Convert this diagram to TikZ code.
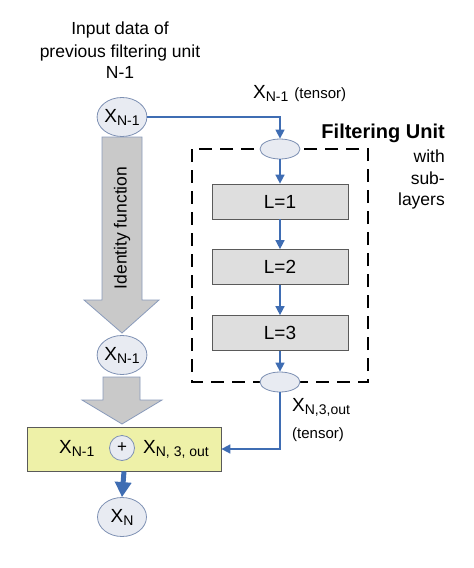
\documentclass[tikz,border=0pt]{standalone}
\usepackage{fontspec}
\setmainfont{Liberation Sans}
\usetikzlibrary{arrows.meta,shapes.geometric}
\definecolor{lblue}{HTML}{3F6DB3}
\definecolor{ellfill}{HTML}{E8EBF2}
\definecolor{elldraw}{HTML}{7D90B3}
\definecolor{boxfill}{HTML}{DEDEDE}
\definecolor{boxdraw}{HTML}{5A5A5A}
\definecolor{arrfill}{HTML}{C9C9C9}
\definecolor{arrdraw}{HTML}{8A9BBB}
\definecolor{yfill}{HTML}{EEF1A8}
\newcommand\Xs[1]{{\fontsize{19}{20}\selectfont X}\raisebox{-3pt}{\fontsize{14}{15}\selectfont #1}}
\newcommand\fs[1]{\fontsize{#1}{#1}\selectfont}
\tikzset{
  ell/.style={ellipse, draw=elldraw, fill=ellfill, line width=0.8pt, inner sep=0pt, minimum width=49pt, minimum height=39pt},
  sell/.style={ellipse, draw=elldraw, fill=ellfill, line width=0.8pt, inner sep=0pt, minimum width=40pt, minimum height=20pt},
  lbox/.style={rectangle, draw=boxdraw, fill=boxfill, line width=0.7pt, minimum width=136pt, minimum height=35pt, inner sep=0pt, font=\fs{19}},
  conn/.style={draw=lblue, line width=1.5pt, -{Triangle[length=9pt,width=9pt]}},
  thick conn/.style={draw=lblue, line width=5pt, -{Triangle[length=15pt,width=16pt]}},
  bigarrow/.style={draw=arrdraw, fill=arrfill, line width=0.8pt},
  txt/.style={inner sep=0pt, font=\fs{17.5}},
}
\begin{document}
\begin{tikzpicture}[x=1pt,y=-1pt]
\useasboundingbox (0,0) rectangle (474,568);
% top caption
\node[txt, anchor=base] (cap1) at (120,34) {Input data of};
\node[txt, anchor=base] (cap2) at (120,57) {previous filtering unit};
\node[txt, anchor=base] (cap3) at (120,78) {N-1};
% big arrows
\draw[bigarrow] (102,137) -- (142,137) -- (142,300) -- (159,300) -- (122,333) -- (84,300) -- (102,300) -- cycle;
\node[txt, rotate=90] (idf) at (122,228) {Identity function};
\draw[bigarrow] (103,377) -- (140,377) -- (140,400) -- (162,400) -- (122,424) -- (82,400) -- (103,400) -- cycle;
% ellipses left
\node[ell] (x1) at (122,117) {\Xs{N-1}};
\node[ell] (x2) at (122,355) {\Xs{N-1}};
\node[ell] (xn) at (122,517) {\Xs{N}};
% yellow box
\node[rectangle, draw=boxdraw, fill=yfill, line width=0.7pt, minimum width=194pt, minimum height=44pt, inner sep=0pt] (sum) at (124,449) {};
\node[anchor=base west, inner sep=0pt] (t1) at (59,453) {\Xs{N-1}};
\node[circle, draw=elldraw, fill=ellfill, line width=0.8pt, minimum size=25pt, inner sep=0pt, font=\fs{17}] (plus) at (122,448) {+};
\node[anchor=base west, inner sep=0pt] (t2) at (143,453) {\Xs{N, 3, out}};
% filtering unit
\draw[black, line width=2pt, dash pattern=on 13pt off 8pt] (192,149) rectangle (368,382);
\node[sell] (s1) at (280,149) {};
\node[sell] (s2) at (280,382) {};
\node[lbox] (l1) at (280,201.5) {L=1};
\node[lbox] (l2) at (280,267) {L=2};
\node[lbox] (l3) at (280,333) {L=3};
\node[anchor=base east, inner sep=0pt, font=\bfseries\fs{20}] (fu) at (445,138) {Filtering Unit};
\node[anchor=base east, inner sep=0pt, font=\fs{17.5}] (w1) at (445,162) {with};
\node[anchor=base east, inner sep=0pt, font=\fs{17.5}] (w2) at (445,184) {sub-};
\node[anchor=base east, inner sep=0pt, font=\fs{17.5}] (w3) at (445,205) {layers};
% labels
\node[anchor=base west, inner sep=0pt] (lab1) at (253,98) {\Xs{N-1}\hspace{6pt}{\fs{15}(tensor)}};
\node[anchor=base west, inner sep=0pt] (lab2) at (292,411) {\Xs{N,3,out}};
\node[anchor=base west, inner sep=0pt, font=\fs{15}] (lab3) at (292,438) {(tensor)};
% connectors
\draw[conn] (x1.east) -| (s1.north);
\draw[conn] (s1.south) -- (l1.north);
\draw[conn] (l1.south) -- (l2.north);
\draw[conn] (l2.south) -- (l3.north);
\draw[conn] (l3.south) -- (s2.north);
\draw[conn] (s2.south) |- (sum.east);
\draw[thick conn] (sum.south) -- (xn.north);
\end{tikzpicture}
\end{document}
